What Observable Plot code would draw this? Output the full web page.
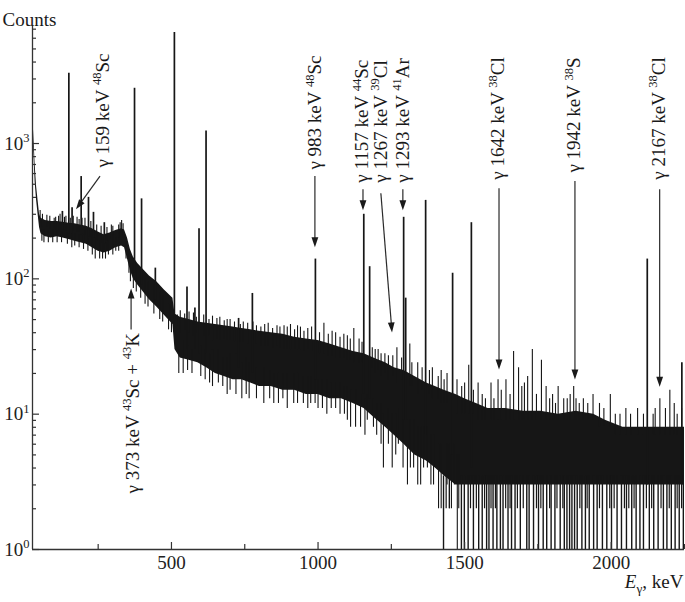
<!DOCTYPE html>
<html><head><meta charset="utf-8">
<script src="https://cdn.jsdelivr.net/npm/d3@7"></script>
<script src="https://cdn.jsdelivr.net/npm/@observablehq/plot@0.6"></script>
<style>
body{margin:0;background:#fff}
#chart svg{font-family:"Liberation Serif","Times New Roman",serif;}
</style></head><body><div id="chart"></div>
<script>
// ---- continuum band (envelope of the dense spectrum), keV / counts ----
const bandE = [26,30,35,40,45,50,55,70,90,110,130,150,170,190,210,230,250,270,290,310,330,340,350,360,370,385,400,425,450,475,505,512,530,560,590,620,650,680,710,740,770,800,840,880,920,960,1000,1040,1080,1120,1157,1190,1230,1260,1293,1330,1370,1400,1430,1470,1500,1540,1580,1640,1700,1760,1820,1880,1940,1980,2040,2100,2160,2200,2250];
const bandLo = [1300,900,520,380,300,240,215,205,200,205,200,195,190,185,180,170,160,155,160,170,175,170,140,115,100,90,82,70,62,54,46,30,26,25,24,22,20,19,18,18,17,16,16,15,15,14,14,13,13,12,11,9.5,8,7,6,5,4.5,4,3.5,3,3,3,3,3,3,3,3,3,3,3,3,3,3,3,3];
const bandHi = [1700,1200,700,480,380,300,280,270,265,265,262,258,255,250,245,235,222,212,218,228,235,230,200,165,145,130,120,105,95,83,72,55,52,50,48,47,46,45,44,43,42,41,40,39,37,36,35,33,31,29,28,26,24,22,21,19,17,16,15,14,13,12,11,11,10.5,10.5,10,10.5,10,9,8,8,8,8,8];

// ---- gamma lines ----
const peakE    = [128,150,161,192,217,234,271,374,398,445,510,553,580,594,618,729,776,991,1156,1176,1292,1299,1367,1459,1523,2123,2241];
const peakBase = [230,215,215,210,205,200,180,110,90,70,50,30,30,28,28,22,20,18,14,13,9,9,7,5,4,3,3];
const peakTop  = [315,3300,335,570,400,310,260,2560,390,120,6600,87,61,235,1240,51,78,140,300,123,285,72,380,110,260,140,24];

// ---- noise excursions of single channels (energy, low, high) ----
const noiseE = [
  60,85,105,120,140,178,205,245,260,300,320,335,52,75,100,115,135,155,165,185,195,225,280,295,325,330,
  65,95,125,170,200,240,255,285,310,360,380,420,460,490,58,80,110,145,160,185,215,230,265,275,300,320,345,355,370,395,410,440,470,500,
  530,560,575,640,665,700,745,520,545,585,610,628,655,680,690,715,735,760,
  540,600,640,660,700,720,755,525,555,570,615,630,675,690,740,765,
  778,818,860,884,906,940,965,1020,1060,1100,1122,1140,790,805,830,845,870,895,920,930,952,978,1005,1035,1048,1075,1088,1110,1150,
  849,880,917,950,990,1015,1060,1090,1111,1128,790,815,835,865,895,930,965,975,1000,1030,1045,1075,1100,1145,1160,
  1195,1215,1240,1269,1313,1340,1390,1420,1440,1185,1205,1228,1255,1285,1320,1355,1380,1410,1430,
  1168,1189,1223,1253,1274,1305,1326,1350,1373,1394,1411,1448,1465,1200,1215,1240,1265,1290,1315,1340,1360,1385,1420,1440,1455,1475,1480,
  1474,1514,1546,1571,1590,1614,1641,1667,1684,1704,1731,1762,1778,1800,1819,1838,1872,1891,1938,1960,1997,2014,2066,2090,2143,2166,2200,2225,
  1490,1500,1530,1560,1600,1625,1655,1695,1715,1745,1790,1810,1850,1860,1880,1905,1920,1975,2030,2050,2110,2150,2185,2215,2240];
const noiseLo = [
  240,235,230,225,225,220,210,190,185,195,200,200,260,240,235,230,230,228,225,220,215,205,190,195,205,210,
  185,185,185,175,165,140,140,150,160,95,80,62,50,42,190,185,185,180,170,170,160,150,140,140,150,160,140,110,85,72,65,55,48,40,
  40,40,38,35,35,35,34,45,42,40,38,38,36,36,35,34,34,33,
  20,19,16,17,15,14,14,20,21,20,18,17,16,14,13,13,
  35,32,32,30,30,30,30,28,26,25,24,24,33,32,32,31,31,30,30,30,29,29,28,27,27,26,26,25,24,
  12,13,12,12,12,11,11,10,8,8,13,12,13,12,11,12,11,12,11,10,11,10,9,8,7,
  20,19,18,17,16,14,13,12,12,22,21,20,19,18,16,15,14,13,12,
  9,8,4,4,6,3,4,3,4,3,2,2,3,7,6,6,5,4,4,3,4,3,2,3,2,1,2,
  10,10,9,9,9,9,9,9,9,9,9,9,9,9,9,9,9,9,9,8,8,7,7,7,7,7,7,7,
  10,10,10,9,9,9,9,9,9,9,9,9,9,9,9,9,9,8,7,7,7,7,7,7,7];
const noiseHi = [
  300,290,285,300,290,285,280,250,245,245,250,255,320,295,280,290,285,280,290,275,280,265,240,250,260,270,
  230,230,220,215,210,200,190,190,200,130,115,95,80,65,230,225,225,220,215,210,200,200,190,185,195,200,190,160,130,110,100,90,75,65,
  58,57,56,53,52,50,48,54,55,52,54,50,51,49,50,48,46,47,
  35,32,30,30,28,28,26,30,32,30,30,28,26,26,24,24,
  48,46,45,45,46,44,43,47,40,38,43,36,45,44,47,43,44,44,42,45,41,44,40,39,41,37,39,36,34,
  20,20,20,19,18,18,17,16,15,15,22,22,21,20,20,20,19,19,18,18,17,17,16,14,13,
  30,28,27,31,33,24,22,21,20,31,30,28,27,26,24,22,21,19,18,
  14,13,10,10,11,9,9,8,8,7,6,6,6,12,12,11,10,9,9,8,8,7,6,6,5,5,5,
  18,23,17,13,17,18,18,29,22,17,30,25,16,14,16,13,16,12,14,12,14,10,10,11,10,13,15,10,
  16,17,15,14,13,15,14,16,19,14,13,12,13,14,13,13,12,11,10,11,10,11,11,12,11];

// channels dropping to 1 and to 2 counts at high energy
const floorE1 = [1428,1489,1499,1512,1530,1548,1560,1575,1583,1597,1610,1622,1631,1648,1660,1672,1690,1712,1720,1735,1752,1768,1780,1795,1808,1826,1840,1849,1858,1866,1875,1884,1900,1912,1925,1940,1952,1970,1985,2001,2020,2035,2052,2070,2085,2098,2110,2130,2145,2160,2178,2190,2205,2218,2232,2246];
const floorE2 = [1437,1448,1520,1540,1568,1590,1605,1640,1655,1680,1700,1745,1760,1790,1815,1835,1893,1918,1960,1995,2010,2045,2060,2078,2120,2138,2170,2198,2225,2240];

// ---- annotations ----
const labels = ["γ 159 keV {48}Sc","γ 373 keV {43}Sc + {43}K","γ 983 keV {48}Sc","γ 1157 keV {44}Sc","γ 1267 keV {39}Cl","γ 1293 keV {41}Ar","γ 1642 keV {38}Cl","γ 1942 keV {38}S","γ 2167 keV {38}Cl"];
const labelE = [265,367,991,1151,1213,1288,1615,1874,2161];
const labelC = [664,39.8,642,514,514,514,541,610,541];
const labelAtTop = [false,true,false,false,false,false,false,false,false];
const arrowE1 = [258,364,991,1155,1216,1291,1619,1878,2167];
const arrowC1 = [570,41.9,570,456,425,456,464,523,456];
const arrowE2 = [176,364,991,1155,1254,1291,1619,1878,2167];
const arrowC2 = [324,84.3,170,319,39.8,319,21.2,17.9,15.8];

// ---- axes ----
const xDomain = [26, 2250];
const yDomain = [1, 7450];
const xMajor = [500,1000,1500,2000];
const xTickLabels = ["500","1000","1500","2000"];
const xMinor = [250,750,1250,1750,2250];
const yMajor = [1,10,100,1000];
const yTickLabels = ["10{0}","10{1}","10{2}","10{3}"];
const yMinor = [2,3,4,5,6,7,8,9,20,30,40,50,60,70,80,90,200,300,400,500,600,700,800,900,2000,3000,4000,5000,6000,7000];

const band = bandE.map((e,i)=>({e, lo:bandLo[i], hi:bandHi[i]}));
const peaks = peakE.map((e,i)=>({e, lo:peakBase[i], hi:peakTop[i]}));
const noise = noiseE.map((e,i)=>({e, lo:noiseLo[i], hi:noiseHi[i]}));
const floor1 = floorE1.map(e=>({e, lo:1, hi:3.5}));
const floor2 = floorE2.map(e=>({e, lo:2, hi:3.5}));
const ann = labels.map((t,i)=>({t, e:labelE[i], c:labelC[i], top:labelAtTop[i], e1:arrowE1[i], c1:arrowC1[i], e2:arrowE2[i], c2:arrowC2[i]}));

const NS = "http://www.w3.org/2000/svg";
const INK = "#161616";

function arrowMark(index, scales) {
  if (!scales || !scales.x || !scales.y) return null;
  const g = document.createElementNS(NS, "g");
  for (const a of ann) {
    const x1 = scales.x(a.e1), y1 = scales.y(a.c1), x2 = scales.x(a.e2), y2 = scales.y(a.c2);
    const dx = x2 - x1, dy = y2 - y1, L = Math.hypot(dx, dy), ux = dx / L, uy = dy / L;
    const hl = 10, hw = 3.4;
    const bx = x2 - ux * hl, by = y2 - uy * hl;
    const line = document.createElementNS(NS, "line");
    line.setAttribute("x1", x1); line.setAttribute("y1", y1);
    line.setAttribute("x2", bx + ux * 2); line.setAttribute("y2", by + uy * 2);
    line.setAttribute("stroke", "#2a2a2a"); line.setAttribute("stroke-width", 1.2);
    g.appendChild(line);
    const p = document.createElementNS(NS, "path");
    p.setAttribute("d", `M${x2},${y2}L${bx - uy * hw},${by + ux * hw}L${bx + uy * hw},${by - ux * hw}Z`);
    p.setAttribute("fill", "#1a1a1a");
    g.appendChild(p);
  }
  return g;
}

const chart = Plot.plot({
  width: 685, height: 602,
  marginLeft: 32, marginRight: 1, marginTop: 25, marginBottom: 53,
  style: {fontFamily: '"Liberation Serif","Times New Roman",serif', fontSize: "19px", background: "#fff"},
  x: {type: "linear", domain: xDomain},
  y: {type: "log", domain: yDomain},
  marks: [
    Plot.areaY(band, {x: "e", y1: "lo", y2: "hi", fill: INK, curve: "linear", clip: true}),
    Plot.ruleX(floor1, {x: "e", y1: "lo", y2: "hi", stroke: INK, strokeWidth: 1.4, clip: true}),
    Plot.ruleX(floor2, {x: "e", y1: "lo", y2: "hi", stroke: INK, strokeWidth: 1.2, clip: true}),
    Plot.ruleX(noise, {x: "e", y1: "lo", y2: "hi", stroke: INK, strokeWidth: 1.1, clip: true}),
    Plot.ruleX(peaks, {x: "e", y1: "lo", y2: "hi", stroke: INK, strokeWidth: 1.7, clip: true}),
    Plot.ruleX([xDomain[0]], {stroke: "#333", strokeWidth: 1.3}),
    Plot.ruleY([yDomain[0]], {stroke: "#333", strokeWidth: 1.3}),
    Plot.axisX(xMajor, {label: null, tickSize: -7, tickFormat: () => "", stroke: "#333", strokeWidth: 1.2}),
    Plot.axisX(xMinor, {label: null, tickSize: -5, tickFormat: () => "", stroke: "#333", strokeWidth: 1.2}),
    Plot.axisX(xMajor, {label: null, tickSize: 0, tickPadding: 6, tickFormat: d => xTickLabels[xMajor.indexOf(d)], fill: "#222", fontSize: 19}),
    Plot.axisY(yMajor, {label: null, tickSize: -7, tickFormat: () => "", stroke: "#333", strokeWidth: 1.2}),
    Plot.axisY(yMinor, {label: null, tickSize: -4, tickFormat: () => "", stroke: "#333", strokeWidth: 1.2}),
    Plot.axisY(yMajor, {label: null, tickSize: 0, tickPadding: 3, tickFormat: d => yTickLabels[yMajor.indexOf(d)], fill: "#222", fontSize: 19}),
    Plot.text(ann.filter(a => !a.top), {x: "e", y: "c", text: "t", rotate: -90, textAnchor: "start", fill: "#1a1a1a", fontSize: 19}),
    Plot.text(ann.filter(a => a.top), {x: "e", y: "c", text: "t", rotate: -90, textAnchor: "end", fill: "#1a1a1a", fontSize: 19}),
    arrowMark,
    Plot.text(["Counts"], {frameAnchor: "top-left", dx: -30, dy: -13, textAnchor: "start", fill: "#1a1a1a", fontSize: 19}),
    Plot.text(["~E~[γ], keV"], {frameAnchor: "bottom-right", dx: -1, dy: 38, textAnchor: "end", fill: "#1a1a1a", fontSize: 19})
  ]
});
document.getElementById("chart").appendChild(chart);

function richify(t) {
  const s = t.textContent;
  if (!/[{\[~]/.test(s)) return;
  const fs = parseFloat(getComputedStyle(t).fontSize) || 19;
  while (t.firstChild) t.removeChild(t.firstChild);
  const re = /\{([^}]*)\}|\[([^\]]*)\]|~([^~]*)~|([^{\[~]+)/g;
  let m, cur = 0;
  while ((m = re.exec(s))) {
    const ts = document.createElementNS(NS, "tspan");
    let off = 0, txt;
    if (m[1] !== undefined) { txt = m[1]; off = -0.4 * fs; ts.setAttribute("font-size", (0.66 * fs).toFixed(1)); }
    else if (m[2] !== undefined) { txt = m[2]; off = 0.28 * fs; ts.setAttribute("font-size", (0.7 * fs).toFixed(1)); }
    else if (m[3] !== undefined) { txt = m[3]; ts.setAttribute("font-style", "italic"); }
    else { txt = m[4]; }
    ts.setAttribute("dy", (off - cur).toFixed(2));
    cur = off;
    ts.textContent = txt;
    t.appendChild(ts);
  }
}
chart.querySelectorAll("text").forEach(richify);
</script></body></html>
